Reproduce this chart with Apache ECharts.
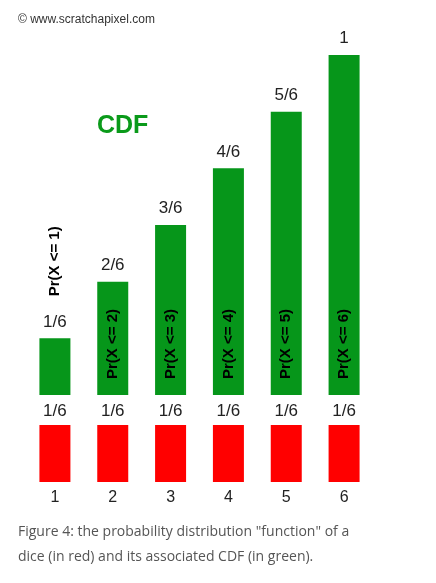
<!DOCTYPE html><html><head><meta charset="utf-8"><script src="https://cdn.jsdelivr.net/npm/echarts@6/dist/echarts.min.js"></script>
<style>body{margin:0;background:#fff}#c{width:436px;height:583px}</style></head><body><div id="c"></div><script>
const categories=['1','2','3','4','5','6'];
const cdfValues=[1,2,3,4,5,6];
const cdfLabels=['1/6','2/6','3/6','4/6','5/6','1'];
const prLabels=['Pr(X <= 1)','Pr(X <= 2)','Pr(X <= 3)','Pr(X <= 4)','Pr(X <= 5)','Pr(X <= 6)'];
const pdfValues=[1,1,1,1,1,1];
const pdfLabels=['1/6','1/6','1/6','1/6','1/6','1/6'];
const ch=echarts.init(document.getElementById('c'));
const F='Liberation Sans, Arial, sans-serif';
const prData=cdfValues.map((v,i)=>i===0?{value:v,label:{position:'top',distance:42}}:v);
ch.setOption({
 animation:false,
 grid:[{left:26,width:347,top:55,height:340},{left:26,width:347,top:425,height:57}],
 xAxis:[{gridIndex:0,type:'category',data:categories,show:false},
  {gridIndex:1,type:'category',data:categories,axisLine:{show:false},axisTick:{show:false},axisLabel:{fontSize:16,color:'#222',fontFamily:F,margin:8}}],
 yAxis:[{gridIndex:0,min:0,max:6,show:false},{gridIndex:1,min:0,max:1,show:false}],
 graphic:[
  {type:'text',left:18,top:14,style:{text:'© www.scratchapixel.com',font:'12px '+F,fill:'#333'}},
  {type:'text',left:97,top:114,style:{text:'CDF',font:'bold 25px '+F,fill:'#0a9a1a'}},
  {type:'text',left:18,top:520,style:{text:'Figure 4: the probability distribution "function" of a\ndice (in red) and its associated CDF (in green).',font:'14px "Open Sans"',fill:'#555',lineHeight:25}}
 ],
 series:[
  {type:'bar',xAxisIndex:0,yAxisIndex:0,barWidth:31,data:prData,itemStyle:{color:'#06961a'},
   label:{show:true,rotate:90,fontSize:15,fontWeight:'bold',fontFamily:F,color:'#000',formatter:p=>prLabels[p.dataIndex],position:'insideBottom',align:'left',verticalAlign:'middle',distance:16}},
  {type:'bar',xAxisIndex:0,yAxisIndex:0,barWidth:31,barGap:'-100%',data:cdfValues,itemStyle:{color:'transparent'},
   label:{show:true,position:'top',distance:8,fontSize:17,fontFamily:F,color:'#222',formatter:p=>cdfLabels[p.dataIndex]}},
  {type:'bar',xAxisIndex:1,yAxisIndex:1,barWidth:31,data:pdfValues,itemStyle:{color:'#ff0000'},
   label:{show:true,position:'top',distance:5,fontSize:17,fontFamily:F,color:'#222',formatter:p=>pdfLabels[p.dataIndex]}}
 ]
});
</script></body></html>
